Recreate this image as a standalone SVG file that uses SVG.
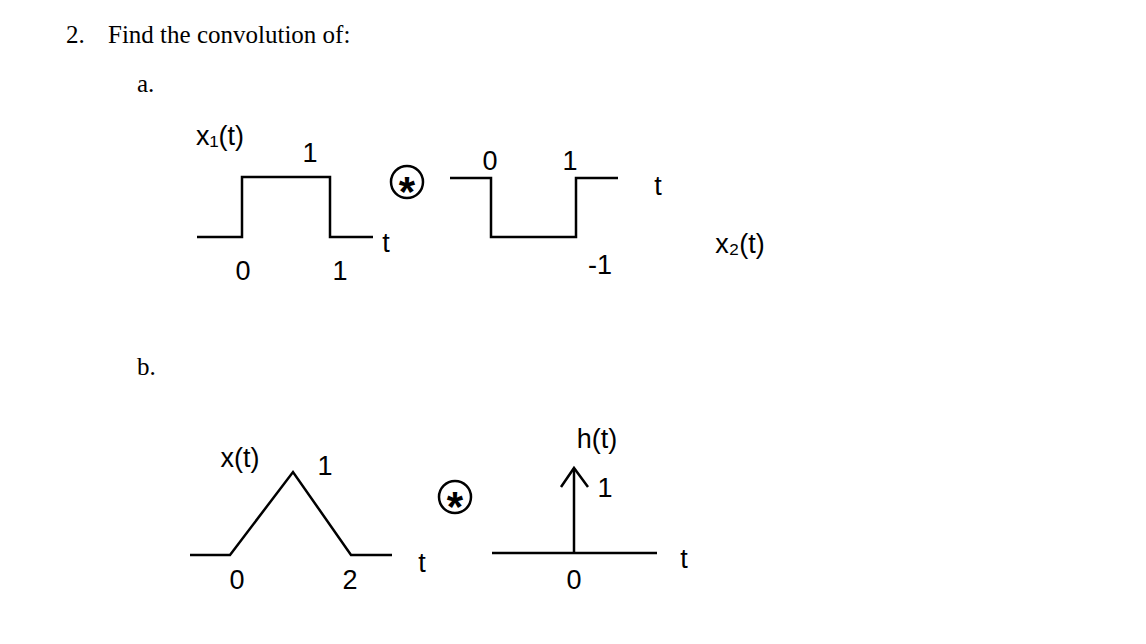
<svg xmlns="http://www.w3.org/2000/svg" width="1146" height="644" viewBox="0 0 1146 644">
<style>
.h{font-family:"Liberation Serif",serif;font-size:25px;fill:#000}
.l{font-family:"Liberation Sans",sans-serif;font-size:27px;fill:#000;text-anchor:middle}
.st{font-family:"Liberation Sans",sans-serif;font-size:42px;font-weight:bold;fill:#000;text-anchor:middle}
.s{fill:none;stroke:#000;stroke-width:2.5;stroke-linejoin:miter}
</style>
<rect width="1146" height="644" fill="#fff"/>
<text class="h" x="66" y="43">2.</text>
<text class="h" x="108" y="43">Find the convolution of:</text>
<text class="h" x="137" y="92">a.</text>
<text class="h" x="137" y="375">b.</text>
<g id="x1">
<polyline class="s" points="197,237 242,237 242,177 330,177 330,237 373,237"/>
<text class="l" x="220" y="145">x₁(t)</text>
<text class="l" x="310" y="162">1</text>
<text class="l" x="243" y="280">0</text>
<text class="l" x="340" y="280">1</text>
<text class="l" x="386" y="252">t</text>
</g>
<g id="conv1"><circle class="s" cx="407" cy="182" r="16"/><text class="st" x="407" y="206">*</text></g>
<g id="x2">
<polyline class="s" points="450,178 491,178 491,237 576,237 576,178 618,178"/>
<text class="l" x="490" y="170">0</text>
<text class="l" x="570" y="170">1</text>
<text class="l" x="658" y="195">t</text>
<text class="l" x="600" y="274">-1</text>
<text class="l" x="740" y="253">x₂(t)</text>
</g>
<g id="x">
<polyline class="s" points="190,555 230,555 293,472 351,555 392,555"/>
<text class="l" x="240" y="467">x(t)</text>
<text class="l" x="325" y="475">1</text>
<text class="l" x="237" y="589">0</text>
<text class="l" x="350" y="589">2</text>
<text class="l" x="422" y="572">t</text>
</g>
<g id="conv2"><circle class="s" cx="455" cy="497" r="16"/><text class="st" x="455" y="521">*</text></g>
<g id="h">
<line class="s" x1="492" y1="553" x2="657" y2="553"/>
<line class="s" x1="574" y1="553" x2="574" y2="468"/>
<polyline class="s" points="561,487 574,468 588,487"/>
<text class="l" x="597" y="448">h(t)</text>
<text class="l" x="605" y="497">1</text>
<text class="l" x="574" y="589">0</text>
<text class="l" x="684" y="568">t</text>
</g>
</svg>
